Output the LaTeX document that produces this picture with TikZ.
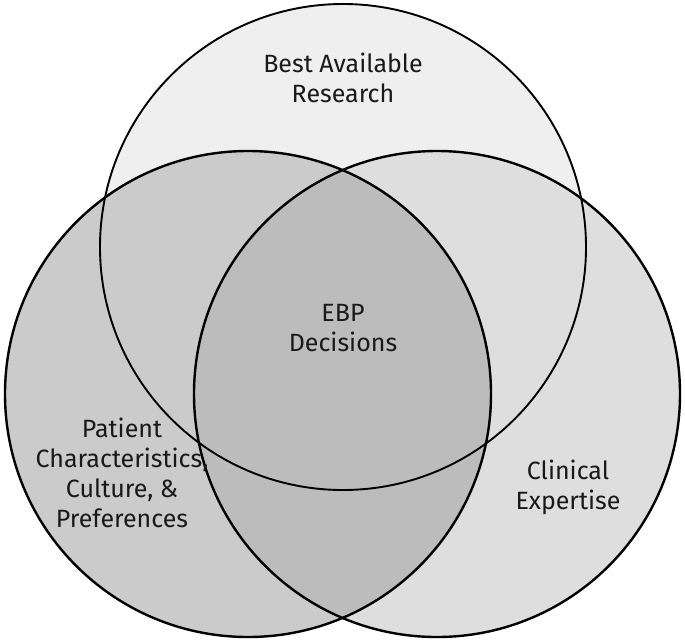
\documentclass[tikz,border=0pt]{standalone}
\usepackage{fontspec}
\setsansfont{Fira Sans}
\definecolor{topgray}{HTML}{EFEFEF}
\definecolor{leftgray}{HTML}{CBCBCB}
\definecolor{rightgray}{HTML}{DEDEDE}
\definecolor{lensgray}{HTML}{BCBCBC}
\tikzset{
  label/.style={align=center, font=\sffamily\fontsize{25}{30}\selectfont, text=black!90},
  rim/.style={draw=black, line width=2.4pt}
}
\begin{document}
\begin{tikzpicture}[x=1pt,y=-1pt]
            \useasboundingbox (0,0) rectangle (685,641);

            \fill[topgray] (343,247) circle (243);
            \fill[leftgray] (248,394) circle (243);
            \fill[rightgray] (437,394) circle (243);
            \begin{scope}
                \clip (248,394) circle (243);
                \fill[lensgray] (437,394) circle (243);
            \end{scope}

            \draw[rim] (248,394) circle (243);
            \draw[rim] (437,394) circle (243);
            \draw[rim, line width=1.9pt] (343,247) circle (243);

            \node[label] (research) at (343,78) {Best Available\\Research};
            \node[label] (ebp) at (343,328) {EBP\\Decisions};
            \node[label] (patient) at (122,473) {Patient\\Characteristics,\\Culture, \&\\Preferences};
            \node[label] (clinical) at (568,487) {Clinical\\Expertise};
        \end{tikzpicture}
\end{document}
